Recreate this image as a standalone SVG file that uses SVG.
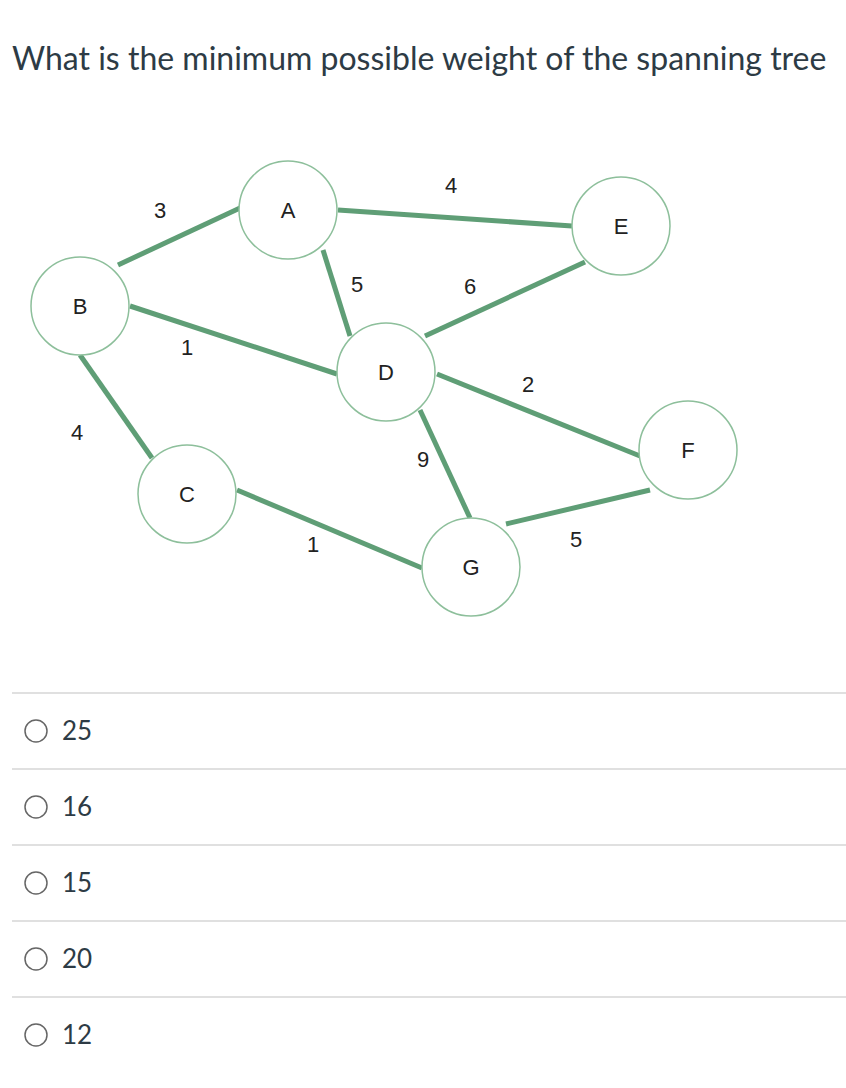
<svg xmlns="http://www.w3.org/2000/svg" width="846" height="1088" viewBox="0 0 846 1088">
<style>
.e{stroke:#5f9e76;stroke-width:5;fill:none}
.n circle{fill:#fff;stroke:#8dbf9b;stroke-width:1.5}
.n text{font-family:"Liberation Sans",Arial,sans-serif;font-size:22px;text-anchor:middle;fill:#222}
.w{font-family:"Liberation Sans",Arial,sans-serif;font-size:22px;text-anchor:middle;fill:#222}
.sep{stroke:#d6d6d6;stroke-width:1.5}
.r{fill:#fff;stroke:#666;stroke-width:1.5}
.o{font-family:Lato,"Liberation Sans",sans-serif;font-size:26px;fill:#2d3b45}
</style>
<rect width="846" height="1088" fill="#fff"/>
<text x="12" y="70" font-family="Lato,'Liberation Sans',sans-serif" font-size="32" fill="#2d3b45">What is the minimum possible weight of the spanning tree</text>
<g id="connectors">
<line class="e" x1="118" y1="265" x2="240" y2="208"/>
<line class="e" x1="338" y1="210" x2="572" y2="226"/>
<line class="e" x1="323" y1="250" x2="350" y2="336"/>
<line class="e" x1="425" y1="336" x2="585" y2="262"/>
<line class="e" x1="130" y1="306" x2="337" y2="374"/>
<line class="e" x1="437" y1="374" x2="640" y2="456"/>
<line class="e" x1="420" y1="410" x2="470" y2="518"/>
<line class="e" x1="80" y1="355" x2="152" y2="458"/>
<line class="e" x1="237" y1="490" x2="422" y2="568"/>
<line class="e" x1="506" y1="524" x2="650" y2="490"/>
<text class="w" x="160" y="218">3</text>
<text class="w" x="451" y="193">4</text>
<text class="w" x="357" y="292">5</text>
<text class="w" x="470" y="294">6</text>
<text class="w" x="187" y="355">1</text>
<text class="w" x="528" y="392">2</text>
<text class="w" x="423" y="467">9</text>
<text class="w" x="77" y="440">4</text>
<text class="w" x="313" y="552">1</text>
<text class="w" x="576" y="547">5</text>
</g>
<g id="A" class="n"><circle cx="288" cy="210" r="49"/><text x="288" y="218">A</text></g>
<g id="E" class="n"><circle cx="621" cy="226" r="49"/><text x="621" y="234">E</text></g>
<g id="B" class="n"><circle cx="80" cy="306" r="49"/><text x="80" y="314">B</text></g>
<g id="D" class="n"><circle cx="386" cy="372" r="49"/><text x="386" y="380">D</text></g>
<g id="F" class="n"><circle cx="688" cy="450" r="49"/><text x="688" y="458">F</text></g>
<g id="C" class="n"><circle cx="187" cy="494" r="49"/><text x="187" y="502">C</text></g>
<g id="G" class="n"><circle cx="471" cy="567" r="49"/><text x="471" y="575">G</text></g>
<g id="options">
<line class="sep" x1="12" y1="693" x2="846" y2="693"/>
<line class="sep" x1="12" y1="769" x2="846" y2="769"/>
<line class="sep" x1="12" y1="845" x2="846" y2="845"/>
<line class="sep" x1="12" y1="921" x2="846" y2="921"/>
<line class="sep" x1="12" y1="997" x2="846" y2="997"/>
<circle class="r" cx="36" cy="731" r="11"/><text class="o" x="62" y="740">25</text>
<circle class="r" cx="36" cy="807" r="11"/><text class="o" x="62" y="816">16</text>
<circle class="r" cx="36" cy="883" r="11"/><text class="o" x="62" y="892">15</text>
<circle class="r" cx="36" cy="959" r="11"/><text class="o" x="62" y="968">20</text>
<circle class="r" cx="36" cy="1035" r="11"/><text class="o" x="62" y="1044">12</text>
</g>
</svg>
